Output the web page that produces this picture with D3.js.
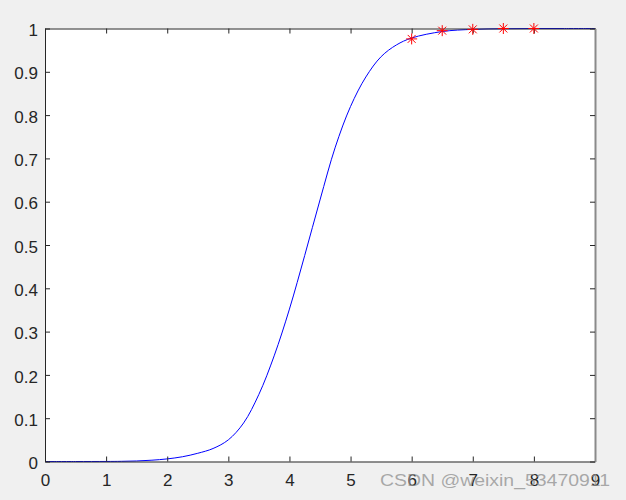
<!DOCTYPE html>
<html>
<head>
<meta charset="utf-8">
<script src="https://cdn.jsdelivr.net/npm/d3@7"></script>
<style>
  html, body { margin: 0; padding: 0; background: #f0f0f0; }
  svg { display: block; }
</style>
</head>
<body>
<svg id="chart" width="626" height="500"></svg>
<script>
// Curve samples
const curveX = [0, 0.5, 1, 1.25, 1.5, 1.75, 2, 2.25, 2.5, 2.75, 3, 3.25, 3.5, 3.75, 4, 4.25, 4.5, 4.75, 5, 5.25, 5.5, 5.75, 6, 6.5, 7, 7.5, 8, 8.5, 9];
const curveY = [0, 0, 0.0001, 0.0004, 0.0012, 0.003, 0.006, 0.011, 0.019, 0.03, 0.05, 0.089, 0.155, 0.244, 0.352, 0.476, 0.604, 0.726, 0.82, 0.888, 0.935, 0.962, 0.978, 0.993, 0.998, 0.9995, 1, 1, 1];
// Red asterisk markers
const markX = [6, 6.5, 7, 7.5, 8];
const markY = [0.976, 0.995, 0.998, 1.0, 1.0];
// Tick values
const xTicks = [0, 1, 2, 3, 4, 5, 6, 7, 8, 9];
const yTicks = [0, 0.1, 0.2, 0.3, 0.4, 0.5, 0.6, 0.7, 0.8, 0.9, 1];
const watermark = "CSDN @weixin_53470911";

(function () {
const svg = d3.select("#chart");
const L = 45, R = 595, T = 28.5, B = 461.5;
const x = d3.scaleLinear().domain([0, 9]).range([L, R]);
const y = d3.scaleLinear().domain([0, 1]).range([B, T]);
const axisColor = "#262626";
const font = "'Liberation Sans', Arial, sans-serif";

svg.append("rect").attr("width", 626).attr("height", 500).attr("fill", "#f0f0f0");
svg.append("rect").attr("x", L).attr("y", T).attr("width", R - L).attr("height", B - T).attr("fill", "#ffffff");

// Curve
const pts = curveX.map((v, i) => [v, curveY[i]]);
svg.append("path")
  .datum(pts)
  .attr("fill", "none")
  .attr("stroke", "#0000ff")
  .attr("stroke-width", 1)
  .attr("d", d3.line().x(d => x(d[0])).y(d => y(d[1])).curve(d3.curveCatmullRom.alpha(0.5)));

// Axes
const tl = 5;
const gBottom = svg.append("g").attr("transform", `translate(0,${B})`)
  .call(d3.axisBottom(x).tickValues(xTicks).tickSizeInner(-tl).tickSizeOuter(0).tickPadding(12).tickFormat(d3.format("d")));
const gLeft = svg.append("g").attr("transform", `translate(${L},0)`)
  .call(d3.axisLeft(y).tickValues(yTicks).tickSizeInner(-tl).tickSizeOuter(0).tickPadding(7).tickFormat(d => d === 0 || d === 1 ? String(d) : d3.format(".1f")(d)));
const gTop = svg.append("g").attr("transform", `translate(0,${T})`)
  .call(d3.axisTop(x).tickValues(xTicks).tickSizeInner(-tl).tickSizeOuter(0).tickFormat(""));
const gRight = svg.append("g").attr("transform", `translate(${R},0)`)
  .call(d3.axisRight(y).tickValues(yTicks).tickSizeInner(-tl).tickSizeOuter(0).tickFormat(""));

[gBottom, gLeft, gTop, gRight].forEach(g => {
  g.selectAll("path.domain").attr("stroke", axisColor).attr("stroke-width", 1);
  g.selectAll(".tick line").attr("stroke", axisColor).attr("stroke-width", 1);
  g.selectAll("text").attr("fill", axisColor).style("font-family", font).style("font-size", "17px");
});
gRight.select("path.domain").attr("stroke", "#8a8a8a").attr("stroke-width", 2);
gLeft.selectAll("text").attr("dy", "0.42em");
gBottom.selectAll("text").attr("dy", "0.71em");

// Markers (asterisks)
const ms = 5.5;
const mk = svg.append("g").attr("stroke", "#ff0000").attr("stroke-width", 1);
markX.forEach((v, i) => {
  const cx = x(v), cy = y(markY[i]);
  const g = mk.append("g").attr("transform", `translate(${cx},${cy})`);
  g.append("line").attr("x1", -ms).attr("x2", ms).attr("y1", 0).attr("y2", 0);
  g.append("line").attr("x1", 0).attr("x2", 0).attr("y1", -ms).attr("y2", ms);
  const d = ms * 0.72;
  g.append("line").attr("x1", -d).attr("x2", d).attr("y1", -d).attr("y2", d);
  g.append("line").attr("x1", -d).attr("x2", d).attr("y1", d).attr("y2", -d);
});

// Watermark
svg.append("text")
  .attr("x", 380).attr("y", 486)
  .attr("textLength", 230).attr("lengthAdjust", "spacingAndGlyphs")
  .style("font-family", font).style("font-size", "16px")
  .attr("fill", "#8f8f8f").attr("fill-opacity", 0.75)
  .text(watermark);
})();
</script>
</body>
</html>
